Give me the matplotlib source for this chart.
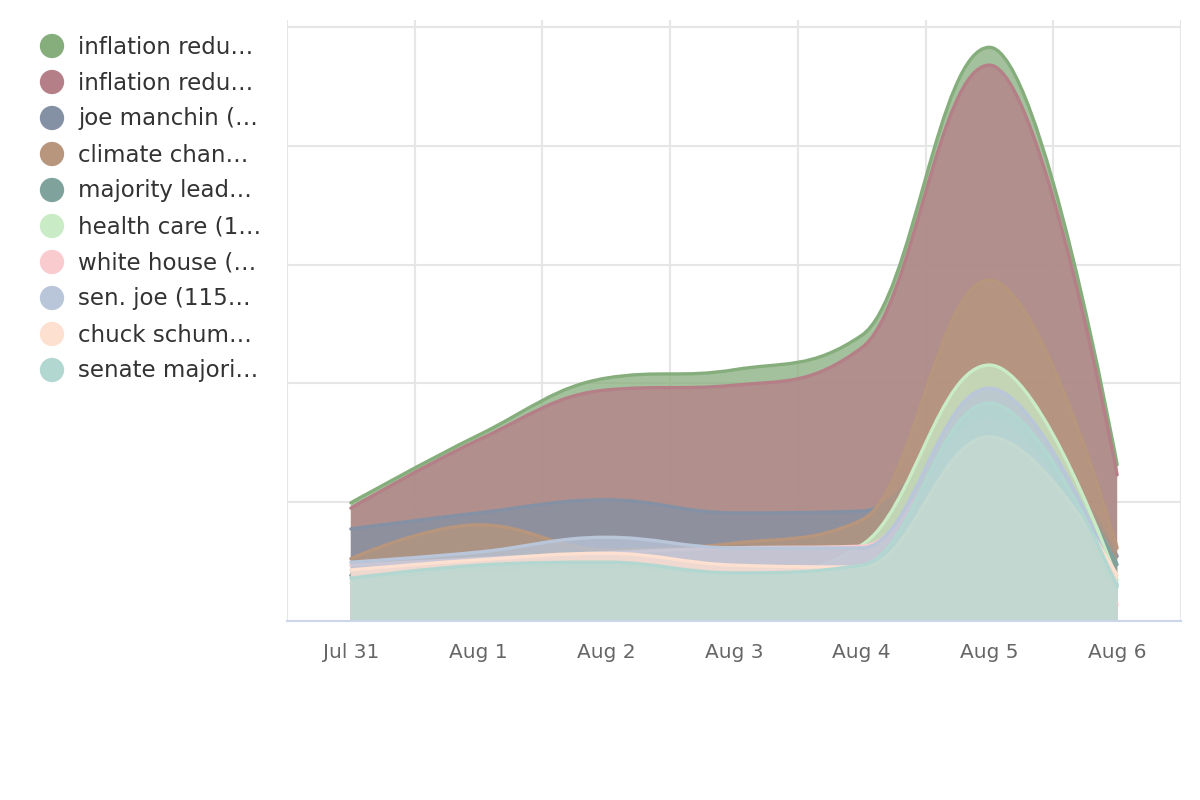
import numpy as np
import matplotlib
matplotlib.use("Agg")
import matplotlib.pyplot as plt
from matplotlib.path import Path
from matplotlib.patches import PathPatch

dates = ["Jul 31", "Aug 1", "Aug 2", "Aug 3", "Aug 4", "Aug 5", "Aug 6"]

names = ["inflation redu…", "inflation redu…", "joe manchin (…", "climate chan…",
         "majority lead…", "health care (1…", "white house (…", "sen. joe (115…",
         "chuck schum…", "senate majori…"]
colors = ["#86ad7c", "#b57f88", "#8491a5", "#b7967d", "#7fa39c",
          "#c9ecc6", "#f9cace", "#b9c6d9", "#fde0cf", "#b2d7d1"]

inflation_a = [19.9, 31.3, 40.9, 42.3, 48.1, 96.6, 26.3]
inflation_b = [19.0, 30.5, 38.9, 39.7, 46.0, 93.6, 24.6]
joe_manchin = [15.5, 18.2, 20.4, 18.2, 18.5, 36.0, 10.9]
climate = [10.5, 16.2, 12.0, 13.1, 17.0, 57.4, 12.3]
majority_lead = [7.7, 9.0, 9.5, 8.0, 9.0, 35.5, 9.5]
health_care = [6.4, 8.0, 8.5, 7.5, 12.8, 43.1, 6.9]
white_house = [9.4, 10.5, 11.5, 12.3, 12.6, 34.0, 2.7]
sen_joe = [9.9, 11.6, 14.1, 12.3, 12.3, 39.2, 6.1]
chuck = [8.6, 10.3, 11.4, 9.4, 9.1, 31.0, 7.7]
senate_majority = [7.2, 9.4, 9.9, 8.1, 9.4, 36.7, 5.7]

series = [inflation_a, inflation_b, joe_manchin, climate, majority_lead,
          health_care, white_house, sen_joe, chuck, senate_majority]


# highcharts style spline (smoothing 1.5)
def spline(xs, ys):
    sm, den = 1.5, 2.5
    n = len(xs)
    left = [(xs[i], ys[i]) for i in range(n)]
    right = list(left)
    for i in range(1, n - 1):
        x, y = xs[i], ys[i]
        lx, ly = xs[i - 1], ys[i - 1]
        nx, ny = xs[i + 1], ys[i + 1]
        lcx, lcy = (sm * x + lx) / den, (sm * y + ly) / den
        rcx, rcy = (sm * x + nx) / den, (sm * y + ny) / den
        corr = ((rcy - lcy) * (rcx - x)) / (rcx - lcx) + y - rcy
        lcy += corr
        rcy += corr
        if lcy > ly and lcy > y:
            lcy = max(ly, y)
            rcy = 2 * y - lcy
        elif lcy < ly and lcy < y:
            lcy = min(ly, y)
            rcy = 2 * y - lcy
        if rcy > ny and rcy > y:
            rcy = max(ny, y)
            lcy = 2 * y - rcy
        elif rcy < ny and rcy < y:
            rcy = min(ny, y)
            lcy = 2 * y - rcy
        left[i] = (lcx, lcy)
        right[i] = (rcx, rcy)
    verts = [(xs[0], ys[0])]
    codes = [Path.MOVETO]
    for i in range(1, n):
        verts += [right[i - 1], left[i], (xs[i], ys[i])]
        codes += [Path.CURVE4] * 3
    return verts, codes


fig = plt.figure(figsize=(12, 8), dpi=100)
ax = fig.add_axes([287 / 1200, 1 - 621 / 800, (1181 - 287) / 1200, (621 - 20) / 800])
ax.set_xlim(-0.5, 6.5)
ax.set_ylim(0, 101.2)

xs = list(range(len(dates)))
for vals, c in zip(series, colors):
    verts, codes = spline(xs, vals)
    area_v = verts + [(xs[-1], 0), (xs[0], 0), (xs[0], vals[0])]
    area_c = codes + [Path.LINETO, Path.LINETO, Path.CLOSEPOLY]
    ax.add_patch(PathPatch(Path(area_v, area_c), facecolor=c, edgecolor="none",
                           alpha=0.75, zorder=2))
    ax.add_patch(PathPatch(Path(verts, codes), facecolor="none", edgecolor=c,
                           lw=2.4, zorder=2, capstyle="round", joinstyle="round"))

ax.set_xticks(xs)
ax.set_xticklabels(dates, fontsize=14.5, color="#666666")
ax.set_xticks(np.arange(-0.5, 7, 1), minor=True)
ax.set_yticks([20, 40, 60, 80, 100])
ax.set_yticklabels([])
ax.tick_params(axis="both", which="both", length=0)
ax.tick_params(axis="x", pad=16)
ax.grid(True, which="minor", axis="x", color="#e6e6e6", lw=1.5, zorder=1)
ax.grid(True, which="major", axis="y", color="#e6e6e6", lw=1.5, zorder=1)
for s in ["top", "left", "right"]:
    ax.spines[s].set_visible(False)
ax.spines["bottom"].set_color("#ccd6eb")
ax.spines["bottom"].set_linewidth(1.5)
ax.spines["bottom"].set_zorder(3)

# legend on the left
lax = fig.add_axes([0, 0, 287 / 1200, 1])
lax.set_xlim(0, 287)
lax.set_ylim(800, 0)
lax.axis("off")
for i, (nm, c) in enumerate(zip(names, colors)):
    y = 47 + 36 * i
    lax.scatter([52], [y - 1], s=17.5 ** 2, color=c, edgecolors="none")
    lax.text(78, y, nm, fontsize=16.5, color="#333333", va="center", ha="left")

fig.savefig("out.png", dpi=100)
